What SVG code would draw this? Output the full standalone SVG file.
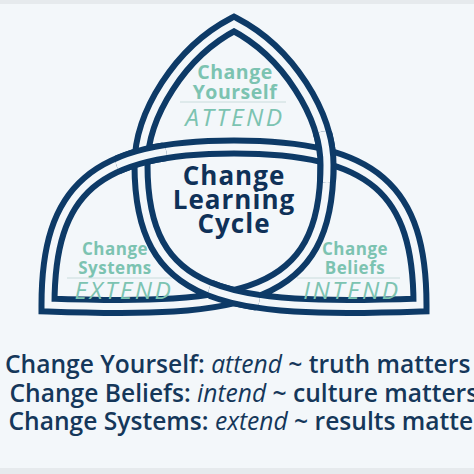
<svg xmlns="http://www.w3.org/2000/svg" width="474" height="474" viewBox="0 0 474 474">
  <style>
    .band{fill:none;stroke:#0d3a67;stroke-width:19;stroke-linejoin:miter;stroke-miterlimit:10}
    .gap{fill:none;stroke:#f3f7fa;stroke-width:7;stroke-linejoin:miter;stroke-miterlimit:10}
    .lab{font-family:"Open Sans","Liberation Sans",sans-serif;font-weight:700;fill:#7cc3b1;text-anchor:middle;letter-spacing:0.5px}
    .ital{font-family:"Open Sans","Liberation Sans",sans-serif;font-style:italic;font-weight:400;fill:#7cc3b1;text-anchor:middle;letter-spacing:2.5px;font-size:24.5px}
    .sep{stroke:#c9dcdc;stroke-width:1}
    .ctr{font-family:"Open Sans","Liberation Sans",sans-serif;font-weight:700;fill:#0f3158;text-anchor:middle;font-size:26px;letter-spacing:1px}
    .leg{font-family:"Open Sans","Liberation Sans",sans-serif;font-weight:600;fill:#15375a;font-size:24.6px}
    .leg .i{font-style:italic;font-weight:400}
  </style>
  <defs>
    <path id="arcA" d="M234,24 C180,52 141,115 141,165 C141,300 226,312 420,305"/>
    <path id="arcB" d="M48,305 C48,190 94,147 234,147 C374,147 420,190 420,305"/>
    <path id="arcC" d="M48,305 C242,312 327,300 327,165 C327,115 288,52 234,24"/>
    <clipPath id="clipL"><circle cx="141" cy="157" r="26"/></clipPath>
    <clipPath id="clipR"><circle cx="327" cy="157" r="26"/></clipPath>
    <clipPath id="clipB"><circle cx="234" cy="296" r="26"/></clipPath>
  </defs>
  <rect width="474" height="474" fill="#f3f7fa"/>
  <rect width="474" height="4" fill="#e6eaed"/>
  <rect y="468" width="474" height="6" fill="#e6eaed"/>

  <g id="connectors">
    <path class="band" d="M234,24 C180,52 141,115 141,165 C141,300 226,312 420,305 C420,190 374,147 234,147 C94,147 48,190 48,305 C242,312 327,300 327,165 C327,115 288,52 234,24 Z"/>
    <path class="gap" d="M234,24 C180,52 141,115 141,165 C141,300 226,312 420,305 C420,190 374,147 234,147 C94,147 48,190 48,305 C242,312 327,300 327,165 C327,115 288,52 234,24 Z"/>
    <g clip-path="url(#clipL)"><use href="#arcB" class="band"/><use href="#arcB" class="gap"/></g>
    <g clip-path="url(#clipR)"><use href="#arcC" class="band"/><use href="#arcC" class="gap"/></g>
    <g clip-path="url(#clipB)"><use href="#arcA" class="band"/><use href="#arcA" class="gap"/></g>
  </g>

  <g id="change-yourself">
    <text class="lab" x="235" y="79" font-size="19.5">Change</text>
    <text class="lab" x="235" y="99" font-size="19.5">Yourself</text>
    <line class="sep" x1="180" y1="102" x2="286" y2="102"/>
    <text class="ital" x="235" y="125.5">ATTEND</text>
  </g>

  <g id="change-systems">
    <text class="lab" x="115" y="255" font-size="17">Change</text>
    <text class="lab" x="115" y="273.5" font-size="17">Systems</text>
    <line class="sep" x1="67" y1="278" x2="172" y2="278"/>
    <text class="ital" x="124" y="299">EXTEND</text>
  </g>

  <g id="change-beliefs">
    <text class="lab" x="355" y="255" font-size="17">Change</text>
    <text class="lab" x="355" y="273.5" font-size="17">Beliefs</text>
    <line class="sep" x1="297" y1="278" x2="400" y2="278"/>
    <text class="ital" x="352" y="299">INTEND</text>
  </g>

  <g id="change-learning-cycle">
    <text class="ctr" x="234" y="185">Change</text>
    <text class="ctr" x="234" y="208.5">Learning</text>
    <text class="ctr" x="234" y="233">Cycle</text>
  </g>

  <g id="legend">
    <text class="leg" x="5" y="373">Change Yourself: <tspan class="i">attend</tspan> ~ truth matters</text>
    <text class="leg" x="9.5" y="401.5">Change Beliefs: <tspan class="i">intend</tspan> ~ culture matters</text>
    <text class="leg" x="8.5" y="430">Change Systems: <tspan class="i">extend</tspan> ~ results matters</text>
  </g>
</svg>
